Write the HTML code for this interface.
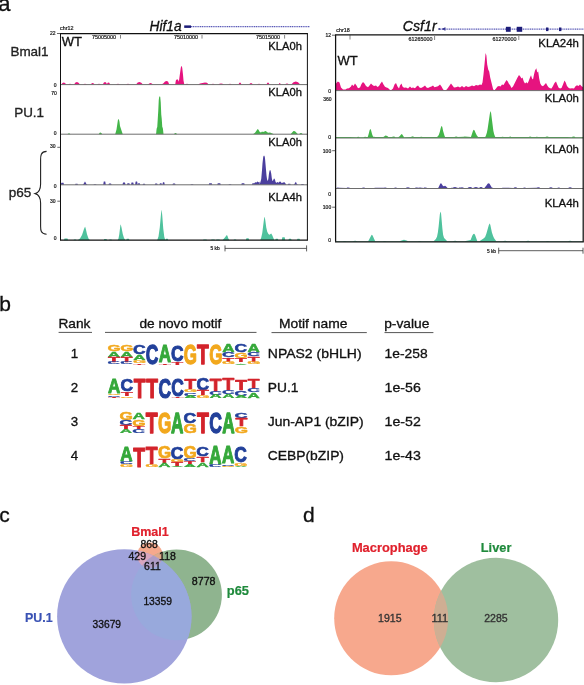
<!DOCTYPE html>
<html lang="en"><head><meta charset="utf-8"><title>Figure</title>
<style>html,body{margin:0;padding:0;background:#fff;}body{width:584px;height:685px;overflow:hidden;}svg{display:block;}</style>
</head><body>
<svg width="584" height="685" viewBox="0 0 584 685" font-family="'Liberation Sans', Arial, Helvetica, sans-serif">
<rect width="584" height="685" fill="#fff"/>
<path d="M60.5,84.60 L60.50,84.60 L61.25,84.60 L62.50,82.91 L63.75,82.42 L65.00,82.93 L66.25,84.53 L68.00,84.60 L69.00,83.96 L70.00,83.80 L71.00,84.00 L72.00,84.60 L74.00,84.60 L75.50,82.52 L77.00,82.00 L78.50,82.65 L80.00,84.60 L83.00,84.60 L84.00,83.96 L85.00,83.80 L86.00,84.00 L87.00,84.60 L90.50,84.60 L90.75,84.54 L91.75,83.30 L92.75,83.02 L93.75,83.46 L94.75,84.60 L97.00,84.60 L98.00,83.96 L99.00,83.80 L100.00,84.00 L101.00,84.60 L102.75,84.60 L103.75,82.80 L104.00,82.47 L105.00,82.00 L106.00,82.59 L106.75,83.80 L107.00,84.01 L107.50,83.04 L107.75,82.77 L108.50,82.40 L109.25,82.86 L109.50,83.13 L110.25,84.51 L110.50,84.60 L116.00,84.60 L117.00,83.96 L118.00,83.80 L119.00,84.00 L120.00,84.60 L126.00,84.60 L127.00,83.96 L128.00,83.80 L129.00,84.00 L130.00,84.60 L136.00,84.60 L137.75,82.52 L139.50,82.00 L141.25,82.65 L143.00,84.60 L148.00,84.60 L149.25,83.50 L150.50,83.12 L151.75,83.44 L153.00,84.51 L153.25,84.60 L161.25,84.60 L161.50,84.53 L163.50,83.20 L165.00,81.60 L166.50,81.00 L168.00,81.40 L169.25,84.60 L175.00,84.60 L175.25,84.27 L175.75,80.93 L176.00,80.37 L177.00,79.20 L178.00,79.87 L178.25,80.15 L178.75,81.65 L179.00,80.40 L180.75,68.06 L181.00,66.88 L181.50,65.80 L182.00,67.09 L182.25,68.03 L183.00,74.77 L183.50,80.60 L184.25,84.35 L184.50,84.60 L185.00,84.60 L186.00,83.96 L187.00,83.80 L188.00,84.00 L189.00,84.60 L198.00,84.60 L200.00,83.40 L205.00,82.40 L207.00,82.80 L208.75,84.55 L211.00,84.60 L212.00,83.88 L213.00,83.70 L214.00,83.92 L215.00,84.60 L218.00,84.60 L219.50,83.80 L221.00,83.60 L222.50,83.85 L224.00,84.60 L228.00,84.60 L229.00,83.96 L230.00,83.80 L231.00,84.00 L232.00,84.60 L238.50,84.60 L239.25,83.00 L240.00,82.60 L240.75,83.10 L241.50,84.60 L249.00,84.60 L250.00,83.40 L251.00,83.10 L252.00,83.47 L253.00,84.60 L257.00,84.60 L258.00,83.88 L259.00,83.70 L260.00,83.92 L261.00,84.60 L266.50,84.60 L267.25,83.00 L268.00,82.60 L268.75,83.10 L269.50,84.60 L278.50,84.60 L278.75,84.30 L279.25,83.37 L279.75,83.12 L280.25,83.38 L280.50,83.66 L281.00,84.60 L285.00,84.60 L286.00,83.80 L287.00,83.60 L288.00,83.85 L289.00,84.60 L291.25,84.60 L293.50,82.25 L295.75,81.61 L298.00,82.33 L300.25,84.55 L307.25,84.60 L307.4,84.60 Z" fill="#e6137f"/>
<path d="M60.5,134.20 L60.50,134.20 L67.50,134.20 L68.25,133.56 L69.00,133.40 L69.75,133.60 L70.50,134.20 L98.50,134.20 L98.75,134.13 L99.50,133.06 L99.75,132.87 L100.50,132.60 L101.25,132.93 L101.50,133.13 L102.25,134.13 L115.00,134.20 L115.25,134.03 L116.50,129.57 L118.00,119.60 L118.50,119.17 L118.75,119.16 L119.25,120.73 L119.50,122.00 L120.00,126.00 L122.50,133.62 L122.75,134.20 L156.00,134.20 L156.25,132.55 L156.50,129.80 L156.75,128.34 L157.25,127.12 L158.25,111.10 L158.75,100.30 L159.00,98.16 L159.25,96.86 L159.50,96.60 L160.00,96.60 L160.25,97.06 L160.75,102.50 L161.25,114.60 L161.75,119.05 L162.25,126.81 L162.75,127.88 L163.00,129.20 L163.50,134.20 L174.00,134.20 L174.75,133.24 L175.50,133.00 L176.25,133.30 L177.00,134.20 L253.00,134.20 L255.00,132.70 L257.50,129.15 L257.75,129.12 L258.50,129.72 L259.50,131.60 L259.75,131.89 L261.00,132.60 L262.00,131.40 L263.00,132.00 L264.50,131.54 L265.25,131.09 L265.50,131.05 L266.75,131.73 L268.00,132.80 L270.00,132.60 L274.00,134.20 L290.50,134.20 L293.50,131.10 L293.75,131.02 L295.00,131.20 L298.00,134.20 L299.00,134.20 L299.25,134.15 L300.00,133.35 L301.00,133.00 L301.75,133.25 L302.75,134.15 L307.25,134.20 L307.4,134.20 Z" fill="#43b549"/>
<path d="M60.5,184.80 L60.50,184.80 L60.75,184.80 L61.25,183.00 L61.50,182.80 L63.50,182.80 L64.00,184.80 L75.00,184.80 L75.50,183.80 L77.50,183.80 L78.00,184.80 L82.25,184.80 L83.00,184.49 L83.25,184.30 L84.00,183.25 L84.75,181.77 L85.00,181.40 L85.50,182.19 L86.25,183.65 L86.75,184.30 L87.50,184.75 L93.50,184.80 L94.00,184.20 L96.00,184.20 L96.50,184.80 L103.00,184.80 L103.25,184.47 L103.75,181.50 L105.25,181.50 L105.75,184.47 L106.00,184.80 L108.25,184.80 L108.50,184.56 L108.75,183.96 L109.00,183.60 L111.00,183.60 L111.25,183.96 L111.50,184.56 L111.75,184.80 L122.50,184.80 L123.00,182.60 L125.00,182.60 L125.50,184.80 L126.75,184.80 L127.00,184.50 L127.25,183.75 L127.50,183.30 L129.25,183.30 L129.50,183.60 L129.75,184.35 L130.00,184.80 L131.00,184.80 L131.50,182.60 L133.25,182.60 L133.75,184.58 L134.00,184.80 L135.00,184.80 L135.25,183.84 L135.50,182.24 L135.75,181.60 L137.00,181.60 L137.25,181.92 L137.50,183.52 L137.75,184.65 L138.25,183.30 L139.75,183.30 L140.25,184.65 L140.50,184.80 L142.50,184.80 L142.75,184.50 L143.00,184.00 L143.25,183.80 L144.75,183.80 L145.00,184.00 L145.25,184.50 L145.50,184.80 L154.50,184.80 L154.75,184.68 L155.25,183.60 L157.00,183.60 L157.25,183.72 L157.75,184.80 L159.25,184.80 L159.50,184.50 L159.75,183.75 L160.00,183.30 L161.50,183.30 L162.00,184.80 L162.25,184.80 L162.50,184.30 L162.75,183.05 L163.00,182.30 L164.25,182.30 L164.75,184.55 L165.00,184.80 L172.25,184.80 L172.50,184.56 L172.75,183.96 L173.00,183.60 L175.00,183.60 L175.25,183.96 L175.50,184.56 L175.75,184.80 L190.50,184.80 L191.00,184.20 L193.00,184.20 L193.50,184.80 L208.50,184.80 L208.75,184.65 L209.25,183.30 L211.75,183.30 L212.25,184.65 L212.50,184.80 L217.00,184.80 L217.25,184.65 L217.75,183.30 L220.25,183.30 L220.75,184.65 L221.00,184.80 L228.50,184.80 L229.00,184.20 L231.00,184.20 L231.50,184.80 L241.00,184.80 L241.25,184.65 L241.75,183.30 L244.25,183.30 L244.75,184.65 L245.00,184.80 L251.75,184.80 L252.75,183.09 L253.00,183.07 L254.00,183.40 L255.25,182.33 L255.50,182.24 L256.25,182.54 L256.50,182.48 L257.25,181.58 L257.50,181.50 L258.25,182.25 L258.50,182.35 L259.50,181.85 L259.75,184.24 L261.00,179.92 L261.25,178.76 L262.00,170.37 L262.50,163.23 L263.25,156.79 L263.50,156.15 L264.00,155.53 L264.25,155.74 L264.75,156.86 L265.00,158.28 L266.50,175.51 L267.00,179.09 L267.25,180.06 L267.75,180.91 L268.00,180.27 L268.25,179.35 L268.50,177.80 L269.00,173.31 L269.50,170.89 L269.75,170.37 L270.50,170.20 L271.25,173.71 L271.75,177.78 L272.00,179.34 L272.50,181.06 L272.75,181.10 L274.00,178.43 L274.25,178.42 L274.75,179.18 L275.00,179.80 L275.50,181.80 L275.75,182.29 L276.50,182.74 L276.75,182.68 L277.50,182.08 L277.75,182.12 L278.50,182.72 L278.75,182.62 L279.50,181.72 L279.75,181.62 L280.75,181.79 L281.75,183.13 L282.00,183.07 L283.00,182.40 L284.25,182.22 L284.50,182.34 L286.25,184.62 L286.50,184.80 L287.50,184.80 L287.75,184.50 L288.00,184.00 L288.25,183.80 L290.25,183.80 L290.75,184.70 L291.00,184.80 L293.25,184.78 L294.00,184.42 L294.75,183.52 L295.50,182.19 L295.75,181.86 L296.00,182.11 L296.75,183.64 L297.25,184.32 L298.00,184.80 L301.00,184.80 L301.50,184.00 L303.50,184.00 L304.00,184.80 L307.25,184.80 L307.4,184.80 Z" fill="#4b3f9e"/>
<path d="M60.5,240.20 L60.50,240.20 L64.00,240.20 L64.50,238.60 L67.50,238.60 L68.00,240.20 L73.50,240.20 L74.00,239.40 L76.00,239.40 L76.50,240.20 L77.75,240.20 L78.00,240.12 L80.00,238.61 L82.00,234.90 L84.00,228.94 L85.00,226.81 L85.25,227.08 L86.00,229.65 L87.00,234.23 L88.50,238.61 L89.75,240.03 L90.00,240.20 L103.75,240.20 L104.25,239.12 L104.50,239.00 L106.50,239.00 L107.00,240.20 L109.00,240.20 L109.50,239.50 L111.50,239.50 L112.00,240.20 L117.50,240.20 L117.75,240.09 L118.50,238.41 L119.25,234.46 L120.25,226.20 L120.50,224.63 L120.75,224.55 L121.50,227.44 L122.75,233.88 L124.00,237.93 L124.25,238.45 L125.50,240.07 L125.75,240.20 L126.00,240.20 L126.25,240.05 L126.75,238.70 L128.75,238.70 L129.00,239.00 L129.25,239.75 L129.50,240.20 L157.00,240.20 L157.25,240.06 L158.50,236.54 L159.75,227.81 L161.00,213.96 L161.50,209.99 L161.75,210.61 L162.25,215.56 L163.25,228.60 L164.25,236.68 L165.25,240.03 L165.50,239.90 L165.75,239.15 L166.00,238.70 L167.50,238.70 L167.75,238.85 L168.25,240.20 L203.00,240.20 L203.50,239.60 L206.50,239.60 L207.00,240.20 L211.00,240.20 L211.50,239.50 L214.50,239.50 L215.00,240.20 L216.00,240.20 L216.50,239.40 L219.50,239.40 L220.00,240.20 L222.50,240.20 L222.75,240.03 L225.50,236.64 L226.25,235.44 L226.50,235.24 L227.25,235.54 L227.50,235.92 L228.25,238.28 L229.25,239.95 L229.50,240.20 L233.50,240.20 L234.00,239.50 L236.00,239.50 L236.50,240.20 L245.75,240.20 L246.00,239.80 L246.25,238.80 L246.50,238.20 L248.50,238.20 L248.75,238.80 L249.00,239.80 L249.25,240.20 L260.25,240.20 L261.25,237.61 L262.25,232.95 L264.00,219.20 L264.50,216.87 L264.75,217.21 L265.25,219.93 L266.25,227.43 L267.25,231.81 L268.25,233.84 L269.25,234.68 L269.50,234.72 L270.50,233.96 L271.25,233.62 L272.25,235.33 L274.25,240.09 L274.50,240.20 L275.25,240.20 L275.75,238.85 L276.00,238.70 L277.75,238.70 L278.25,240.05 L278.50,240.20 L281.75,240.20 L282.25,237.50 L282.50,237.20 L284.50,237.20 L284.75,237.50 L285.25,240.20 L288.25,240.20 L288.50,239.90 L288.75,239.15 L289.00,238.70 L291.00,238.70 L291.25,239.15 L291.50,239.90 L291.75,240.20 L296.75,240.20 L297.00,239.90 L297.25,239.15 L297.50,238.70 L299.50,238.70 L299.75,239.15 L300.00,239.90 L300.25,240.20 L307.25,240.20 L307.4,240.20 Z" fill="#4fc29d"/>
<path d="M335.6,90.60 L336.00,83.60 L337.80,81.60 L339.50,82.60 L341.00,87.60 L343.00,89.40 L345.50,89.60 L347.00,88.60 L349.00,88.20 L351.00,86.60 L352.00,84.60 L353.50,86.10 L355.00,83.40 L356.50,85.60 L358.00,88.20 L360.00,87.60 L361.50,84.10 L363.00,82.00 L364.50,83.60 L366.00,86.10 L368.00,87.20 L369.50,85.60 L371.00,83.40 L372.50,85.10 L374.00,86.00 L376.00,85.40 L377.50,87.00 L379.00,86.10 L380.50,83.60 L382.00,81.60 L383.50,84.60 L385.00,86.80 L386.50,87.60 L388.00,88.00 L389.50,89.40 L391.00,90.20 L393.00,88.60 L394.50,84.60 L396.00,83.00 L397.50,86.60 L399.00,88.60 L400.00,85.60 L401.50,83.60 L402.50,86.60 L404.00,87.80 L406.00,87.40 L408.00,88.40 L410.00,86.40 L411.50,88.10 L413.00,87.60 L415.00,88.20 L416.50,86.60 L418.00,85.40 L419.50,87.60 L421.00,88.00 L423.00,87.00 L425.00,85.40 L426.50,87.40 L428.00,88.00 L430.00,87.00 L431.50,86.40 L433.00,85.40 L434.50,87.20 L438.00,86.20 L440.00,84.40 L441.50,86.60 L443.00,89.20 L444.00,90.30 L446.00,90.30 L447.50,88.60 L451.00,83.40 L452.50,85.60 L454.00,87.60 L456.00,87.20 L458.00,86.40 L460.00,87.60 L462.00,86.10 L464.00,87.40 L466.00,86.00 L468.00,87.00 L470.00,86.60 L472.00,85.40 L474.00,86.20 L476.00,85.00 L478.00,85.60 L480.00,84.60 L481.50,85.00 L482.50,82.60 L483.50,74.60 L485.60,53.10 L486.40,55.60 L487.20,64.60 L488.20,69.60 L489.20,71.60 L490.20,77.60 L493.20,89.40 L494.50,90.20 L496.00,88.60 L497.50,86.60 L499.00,86.00 L500.50,86.40 L502.00,84.60 L503.50,85.00 L505.00,82.60 L506.50,80.00 L507.80,81.60 L509.00,84.00 L510.00,85.00 L511.50,88.00 L513.00,86.60 L517.50,77.60 L519.00,75.10 L520.30,76.60 L521.50,78.60 L522.50,77.60 L523.80,81.60 L525.00,83.60 L526.50,82.20 L527.50,83.60 L528.50,81.60 L530.00,77.60 L531.00,75.20 L532.00,78.60 L533.00,79.60 L534.00,74.60 L535.00,70.60 L536.30,68.20 L537.30,72.60 L538.20,71.60 L539.20,78.60 L540.30,83.60 L541.50,85.60 L543.00,86.20 L546.00,83.00 L547.30,85.60 L548.50,87.20 L550.00,88.20 L551.50,88.60 L553.00,86.00 L554.50,83.00 L556.00,81.40 L557.20,84.60 L558.50,87.60 L560.00,88.60 L561.50,88.00 L563.00,84.60 L564.50,80.60 L565.70,82.60 L567.00,86.00 L568.50,87.80 L570.00,88.60 L572.00,88.20 L574.00,88.40 L575.50,86.20 L577.00,85.20 L578.50,86.00 L580.00,84.60 L581.50,86.20 L583.00,87.00 L583.2,90.60 Z" fill="#e6137f"/>
<path d="M335.6,138.00 L335.60,137.00 L338.60,137.02 L339.35,136.91 L348.85,137.08 L349.60,136.95 L356.60,137.17 L358.10,136.75 L359.35,137.05 L359.60,137.20 L363.60,137.13 L364.10,136.89 L365.10,136.67 L366.35,136.95 L366.60,137.07 L367.60,137.05 L367.85,136.70 L368.85,133.19 L369.60,130.20 L370.10,129.20 L370.60,129.34 L370.85,129.58 L372.10,134.23 L373.10,136.67 L373.35,136.86 L374.10,136.71 L375.10,136.90 L383.35,136.89 L385.60,135.60 L385.85,135.52 L387.60,136.29 L388.35,136.97 L392.10,137.09 L392.35,136.84 L393.60,136.45 L394.85,136.78 L395.35,137.20 L398.35,137.19 L398.60,137.12 L399.60,136.28 L401.10,134.52 L401.85,134.07 L402.10,134.14 L404.10,137.16 L410.85,137.11 L411.35,136.65 L412.35,136.38 L412.60,136.37 L413.60,136.70 L413.85,136.84 L414.10,137.09 L419.85,137.10 L421.35,136.73 L422.60,137.02 L437.10,136.94 L437.35,136.85 L438.60,135.27 L438.85,134.85 L439.85,131.78 L440.60,128.50 L441.35,126.36 L441.60,126.16 L441.85,126.12 L442.35,127.28 L443.10,130.98 L444.60,136.00 L445.10,137.10 L446.60,136.92 L454.60,137.08 L455.10,136.71 L456.10,136.46 L457.35,136.78 L457.60,136.93 L463.60,136.84 L464.60,136.62 L470.85,136.88 L471.10,136.56 L473.10,130.60 L473.60,129.96 L473.85,129.74 L474.60,130.40 L475.60,133.00 L476.85,135.46 L478.10,136.95 L485.10,137.00 L485.35,136.75 L485.85,135.85 L486.85,132.75 L487.60,129.00 L489.85,113.86 L490.35,111.62 L490.60,111.33 L491.10,113.00 L493.35,130.81 L494.10,134.00 L495.10,136.71 L495.35,137.00 L501.35,136.99 L502.60,136.73 L503.85,136.96 L508.85,136.91 L510.35,136.62 L511.35,136.89 L528.60,136.93 L530.10,136.53 L531.60,136.97 L535.60,136.99 L536.85,136.63 L538.10,136.91 L538.35,137.05 L545.60,136.97 L545.85,136.71 L547.10,136.39 L548.35,136.79 L548.60,136.93 L566.35,137.02 L566.85,136.93 L571.85,137.21 L572.10,137.09 L572.35,136.85 L573.60,136.49 L574.85,136.83 L575.35,137.24 L583.10,137.30 L583.2,138.00 Z" fill="#43b549"/>
<path d="M335.6,188.50 L335.60,187.90 L336.35,187.90 L336.85,187.68 L337.85,187.52 L339.10,187.74 L339.35,187.87 L346.60,187.89 L347.10,187.60 L348.35,187.42 L349.60,187.75 L349.85,187.90 L361.85,187.90 L362.35,187.66 L363.60,187.46 L364.85,187.73 L365.10,187.88 L373.85,187.88 L375.35,187.63 L383.60,187.87 L383.85,187.70 L385.10,187.46 L386.35,187.69 L386.85,187.90 L393.85,187.90 L395.35,187.55 L396.60,187.74 L397.10,187.90 L405.85,187.90 L406.60,187.52 L408.10,187.25 L409.60,187.66 L410.10,187.90 L415.10,187.90 L415.60,187.62 L416.85,187.40 L418.35,187.71 L420.10,187.42 L421.60,187.73 L421.85,187.87 L423.60,187.90 L424.10,187.61 L425.35,187.38 L426.60,187.66 L427.10,187.90 L438.10,187.90 L438.60,187.30 L440.35,183.60 L440.60,183.45 L441.10,183.32 L441.35,183.53 L442.85,185.86 L443.10,186.12 L443.85,186.27 L444.10,186.24 L444.85,185.79 L445.10,185.76 L446.10,186.40 L447.35,187.72 L447.60,187.90 L450.35,187.90 L451.85,187.64 L452.85,187.79 L453.60,187.36 L455.10,187.12 L456.60,187.52 L457.10,187.87 L458.60,187.90 L459.10,187.61 L460.35,187.41 L460.85,187.48 L462.10,187.32 L463.60,187.66 L464.10,187.90 L467.60,187.90 L468.60,187.20 L470.10,186.93 L471.35,187.26 L472.35,187.90 L473.85,187.87 L474.60,187.36 L476.10,187.12 L477.60,187.52 L478.10,187.87 L479.10,187.89 L479.85,187.19 L480.85,186.94 L481.10,186.93 L482.10,187.25 L482.85,187.88 L484.35,187.90 L484.60,187.81 L486.60,185.30 L487.60,183.70 L488.60,183.20 L489.60,183.70 L491.60,187.30 L491.85,187.45 L492.60,187.63 L493.10,187.90 L501.35,187.90 L502.85,187.66 L513.60,187.90 L514.10,187.52 L515.35,187.28 L516.60,187.59 L517.10,187.90 L522.85,187.90 L524.35,187.55 L525.60,187.75 L526.10,187.90 L536.60,187.87 L537.10,187.51 L538.35,187.28 L539.60,187.62 L540.10,187.90 L549.10,187.90 L549.60,187.58 L550.85,187.29 L552.10,187.57 L552.60,187.90 L557.10,187.90 L558.60,187.56 L559.85,187.77 L560.10,187.89 L568.35,187.90 L568.85,187.56 L570.10,187.28 L571.35,187.56 L571.85,187.90 L583.10,187.90 L583.2,188.50 Z" fill="#4b3f9e"/>
<path d="M335.6,241.80 L335.60,241.30 L343.10,241.27 L343.60,241.07 L345.10,240.92 L346.60,241.17 L346.85,241.28 L352.85,241.30 L353.60,240.99 L355.10,240.82 L356.60,241.10 L357.10,241.30 L367.85,241.30 L368.10,241.20 L368.60,240.60 L371.35,235.17 L371.85,234.83 L372.35,235.25 L372.60,235.62 L374.85,240.47 L375.35,241.17 L375.60,241.30 L383.10,241.27 L383.60,241.07 L385.10,240.92 L386.60,241.17 L386.85,241.28 L399.35,241.26 L403.85,239.75 L404.10,239.73 L406.60,240.46 L408.10,241.30 L418.10,241.27 L418.60,241.07 L420.10,240.92 L421.60,241.17 L421.85,241.28 L433.60,241.30 L435.85,238.95 L436.85,237.10 L437.10,236.30 L437.85,232.42 L438.60,226.80 L439.85,214.30 L440.35,212.00 L440.60,211.80 L441.10,213.80 L442.35,228.23 L443.10,234.80 L443.85,237.30 L444.10,237.92 L445.35,239.33 L446.35,240.16 L447.10,241.22 L447.35,241.30 L452.85,241.30 L453.60,240.99 L455.10,240.82 L456.60,241.10 L457.10,241.30 L464.60,241.30 L470.60,240.00 L472.35,235.54 L473.35,233.99 L474.10,233.82 L474.35,233.99 L474.85,234.61 L475.10,235.07 L477.35,241.18 L477.60,241.30 L479.35,241.29 L483.85,238.32 L485.10,236.92 L486.35,233.63 L488.85,225.09 L489.10,224.43 L489.60,223.57 L489.85,223.79 L490.35,225.07 L491.85,232.16 L493.10,236.04 L494.10,238.33 L496.10,241.09 L496.35,241.30 L502.85,241.30 L503.60,240.99 L505.10,240.82 L506.60,241.10 L507.10,241.30 L525.85,241.30 L526.60,240.99 L528.10,240.82 L529.60,241.10 L530.10,241.30 L546.10,241.27 L546.60,241.07 L548.10,240.92 L549.60,241.17 L549.85,241.28 L567.85,241.30 L568.60,240.91 L570.10,240.72 L571.60,241.03 L572.10,241.30 L583.10,241.30 L583.2,241.80 Z" fill="#4fc29d"/>
<line x1="60.5" y1="84.6" x2="307.4" y2="84.6" stroke="#6d6d6d" stroke-width="1"/>
<line x1="60.5" y1="134.2" x2="307.4" y2="134.2" stroke="#6d6d6d" stroke-width="1"/>
<line x1="60.5" y1="184.8" x2="307.4" y2="184.8" stroke="#6d6d6d" stroke-width="1"/>
<path d="M60.00,33.5 H307.90 M60.00,240.2 H307.90" fill="none" stroke="#111" stroke-width="1.25"/>
<path d="M60.5,33.5 V240.2 M307.4,33.5 V240.2" fill="none" stroke="#111" stroke-width="1.0"/>
<line x1="335.6" y1="90.6" x2="583.2" y2="90.6" stroke="#6d6d6d" stroke-width="1"/>
<line x1="335.6" y1="138.0" x2="583.2" y2="138.0" stroke="#6d6d6d" stroke-width="1"/>
<line x1="335.6" y1="188.5" x2="583.2" y2="188.5" stroke="#6d6d6d" stroke-width="1"/>
<path d="M334.98,34.9 H583.83 M334.98,241.8 H583.83" fill="none" stroke="#111" stroke-width="1.3"/>
<path d="M335.6,34.9 V241.8 M583.2,34.9 V241.8" fill="none" stroke="#111" stroke-width="1.25"/>
<text x="55.60" y="35.30" font-size="5.0" text-anchor="end" fill="#222" stroke="#222" stroke-width="0.22">22</text>
<line x1="57" y1="33.5" x2="60.5" y2="33.5" stroke="#222" stroke-width="0.7"/>
<text x="56.60" y="86.70" font-size="5.0" text-anchor="end" fill="#222" stroke="#222" stroke-width="0.22">0</text>
<text x="56.80" y="95.10" font-size="5.0" text-anchor="end" fill="#222" stroke="#222" stroke-width="0.22">70</text>
<text x="56.60" y="135.20" font-size="5.0" text-anchor="end" fill="#222" stroke="#222" stroke-width="0.22">0</text>
<text x="55.60" y="148.00" font-size="5.0" text-anchor="end" fill="#222" stroke="#222" stroke-width="0.22">30</text>
<line x1="57.3" y1="147.3" x2="60.5" y2="147.3" stroke="#222" stroke-width="0.7"/>
<text x="56.60" y="188.00" font-size="5.0" text-anchor="end" fill="#222" stroke="#222" stroke-width="0.22">0</text>
<text x="55.60" y="203.00" font-size="5.0" text-anchor="end" fill="#222" stroke="#222" stroke-width="0.22">30</text>
<line x1="57.3" y1="201.2" x2="60.5" y2="201.2" stroke="#222" stroke-width="0.7"/>
<text x="56.60" y="240.00" font-size="5.0" text-anchor="end" fill="#222" stroke="#222" stroke-width="0.22">0</text>
<text x="331.00" y="37.00" font-size="5" text-anchor="end" fill="#222" stroke="#222" stroke-width="0.22">12</text>
<line x1="332" y1="35.2" x2="335.6" y2="35.2" stroke="#222" stroke-width="0.7"/>
<text x="331.00" y="92.60" font-size="5" text-anchor="end" fill="#222" stroke="#222" stroke-width="0.22">0</text>
<text x="331.60" y="100.60" font-size="5" text-anchor="end" fill="#222" stroke="#222" stroke-width="0.22">360</text>
<text x="331.00" y="139.40" font-size="5" text-anchor="end" fill="#222" stroke="#222" stroke-width="0.22">0</text>
<text x="331.20" y="152.50" font-size="5" text-anchor="end" fill="#222" stroke="#222" stroke-width="0.22">100</text>
<line x1="332.2" y1="150.7" x2="335.6" y2="150.7" stroke="#222" stroke-width="0.7"/>
<text x="331.00" y="195.50" font-size="5" text-anchor="end" fill="#222" stroke="#222" stroke-width="0.22">0</text>
<text x="331.20" y="209.00" font-size="5" text-anchor="end" fill="#222" stroke="#222" stroke-width="0.22">100</text>
<line x1="332.2" y1="207.2" x2="335.6" y2="207.2" stroke="#222" stroke-width="0.7"/>
<text x="331.00" y="241.80" font-size="5" text-anchor="end" fill="#222" stroke="#222" stroke-width="0.22">0</text>
<text x="60.00" y="29.60" font-size="5.4" fill="#222" stroke="#222" stroke-width="0.22">chr12</text>
<text x="336.30" y="31.60" font-size="5.4" fill="#222" stroke="#222" stroke-width="0.22">chr18</text>
<text x="115.90" y="39.20" font-size="5.4" text-anchor="end" fill="#222" stroke="#222" stroke-width="0.22">75005000</text>
<line x1="120.5" y1="35" x2="120.5" y2="38.6" stroke="#333" stroke-width="0.6"/>
<text x="198.00" y="39.20" font-size="5.4" text-anchor="end" fill="#222" stroke="#222" stroke-width="0.22">75010000</text>
<line x1="202" y1="35" x2="202" y2="38.6" stroke="#333" stroke-width="0.6"/>
<text x="280.00" y="39.20" font-size="5.4" text-anchor="end" fill="#222" stroke="#222" stroke-width="0.22">75015000</text>
<line x1="284.6" y1="35" x2="284.6" y2="38.6" stroke="#333" stroke-width="0.6"/>
<line x1="350" y1="35" x2="350" y2="39.5" stroke="#333" stroke-width="0.6"/>
<text x="432.60" y="41.20" font-size="5.4" text-anchor="end" fill="#222" stroke="#222" stroke-width="0.22">61265000</text>
<line x1="434.6" y1="36" x2="434.6" y2="40" stroke="#333" stroke-width="0.6"/>
<text x="516.40" y="41.20" font-size="5.4" text-anchor="end" fill="#222" stroke="#222" stroke-width="0.22">61270000</text>
<line x1="518.8" y1="36" x2="518.8" y2="40" stroke="#333" stroke-width="0.6"/>
<text x="149.60" y="31.40" font-size="13.8" font-style="italic" fill="#111" stroke="#111" stroke-width="0.32" textLength="32.00" lengthAdjust="spacingAndGlyphs">Hif1a</text>
<rect x="184.2" y="25.4" width="6.8" height="2.5" fill="#1c1c78"/>
<line x1="191" y1="26.7" x2="310" y2="26.7" stroke="#5c5cb8" stroke-width="1.2" stroke-dasharray="1.2 0.6"/>
<text x="402.80" y="31.40" font-size="14" font-style="italic" fill="#111" stroke="#111" stroke-width="0.32" textLength="33.80" lengthAdjust="spacingAndGlyphs">Csf1r</text>
<path d="M438.4,28.3 h1.6 v1.5 h-1.6 Z M441.6,29 L445.4,27.3 L445.4,30.7 Z" fill="#1c1c78"/>
<line x1="440" y1="29.1" x2="584" y2="29.1" stroke="#5c5cb8" stroke-width="1.2" stroke-dasharray="1.2 0.6"/>
<rect x="505.9" y="26.80" width="4.8" height="5" fill="#1c1c78"/>
<rect x="516.7" y="26.80" width="5.5" height="5" fill="#1c1c78"/>
<rect x="546" y="27.50" width="2.4" height="3.6" fill="#1c1c78"/>
<rect x="559" y="27.50" width="2.4" height="3.6" fill="#1c1c78"/>
<text x="10.40" y="56.00" font-size="13.5" fill="#222" stroke="#222" stroke-width="0.32" textLength="38.20" lengthAdjust="spacingAndGlyphs">Bmal1</text>
<text x="14.20" y="117.30" font-size="13.5" fill="#222" stroke="#222" stroke-width="0.32" textLength="29.80" lengthAdjust="spacingAndGlyphs">PU.1</text>
<text x="8.80" y="197.10" font-size="13.5" fill="#222" stroke="#222" stroke-width="0.32" textLength="22.60" lengthAdjust="spacingAndGlyphs">p65</text>
<path d="M46.6,151.4 C40.5,151.6 40.6,156 40.6,160 L40.6,184 C40.6,189.5 39.5,192.4 35.2,193.6 C39.5,194.8 40.6,197.6 40.6,203 L40.6,226 C40.6,230 40.5,234 46.6,234.2" fill="none" stroke="#222" stroke-width="1.1"/>
<text x="61.80" y="46.30" font-size="13" fill="#111" stroke="#111" stroke-width="0.32">WT</text>
<text x="337.60" y="64.90" font-size="13" fill="#111" stroke="#111" stroke-width="0.32">WT</text>
<text x="301.90" y="49.90" font-size="11.2" text-anchor="end" fill="#111" stroke="#111" stroke-width="0.32">KLA0h</text>
<text x="301.90" y="95.60" font-size="11.2" text-anchor="end" fill="#111" stroke="#111" stroke-width="0.32">KLA0h</text>
<text x="301.90" y="146.40" font-size="11.2" text-anchor="end" fill="#111" stroke="#111" stroke-width="0.32">KLA0h</text>
<text x="301.90" y="200.60" font-size="11.2" text-anchor="end" fill="#111" stroke="#111" stroke-width="0.32">KLA4h</text>
<text x="578.90" y="46.80" font-size="11.4" text-anchor="end" fill="#111" stroke="#111" stroke-width="0.32">KLA24h</text>
<text x="578.90" y="102.40" font-size="11.4" text-anchor="end" fill="#111" stroke="#111" stroke-width="0.32">KLA0h</text>
<text x="578.90" y="152.80" font-size="11.4" text-anchor="end" fill="#111" stroke="#111" stroke-width="0.32">KLA0h</text>
<text x="578.90" y="207.00" font-size="11.4" text-anchor="end" fill="#111" stroke="#111" stroke-width="0.32">KLA4h</text>
<path d="M225,245.4 V251.4 M225,248.4 H306.6 M306.6,245.4 V251.4" stroke="#333" stroke-width="0.8" fill="none"/>
<text x="219.60" y="250.20" font-size="4.8" text-anchor="end" fill="#222" stroke="#222" stroke-width="0.22">5 kb</text>
<path d="M498.7,247.7 V253.7 M498.7,250.7 H583 M583,247.7 V253.7" stroke="#333" stroke-width="0.8" fill="none"/>
<text x="496.00" y="252.50" font-size="4.8" text-anchor="end" fill="#222" stroke="#222" stroke-width="0.22">5 kb</text>
<text x="-1.70" y="10.80" font-size="22" fill="#111" stroke="#111" stroke-width="0.32">a</text>
<text x="-0.80" y="310.60" font-size="21" fill="#111" stroke="#111" stroke-width="0.32">b</text>
<text x="-0.80" y="522.20" font-size="21" fill="#111" stroke="#111" stroke-width="0.32">c</text>
<text x="303.00" y="522.20" font-size="21" fill="#111" stroke="#111" stroke-width="0.32">d</text>
<text x="58.40" y="328.20" font-size="13.3" fill="#111" stroke="#111" stroke-width="0.32" textLength="32.00" lengthAdjust="spacingAndGlyphs">Rank</text>
<line x1="58.6" y1="332.4" x2="92" y2="332.4" stroke="#555" stroke-width="1"/>
<text x="139.40" y="328.20" font-size="13.3" fill="#111" stroke="#111" stroke-width="0.32" textLength="82.00" lengthAdjust="spacingAndGlyphs">de novo motif</text>
<line x1="105" y1="332.4" x2="256.5" y2="332.4" stroke="#555" stroke-width="1"/>
<text x="279.00" y="328.20" font-size="13.3" fill="#111" stroke="#111" stroke-width="0.32" textLength="68.40" lengthAdjust="spacingAndGlyphs">Motif name</text>
<line x1="271.5" y1="332.6" x2="366.8" y2="332.6" stroke="#555" stroke-width="1"/>
<text x="384.20" y="328.20" font-size="13.3" fill="#111" stroke="#111" stroke-width="0.32" textLength="45.20" lengthAdjust="spacingAndGlyphs">p-value</text>
<line x1="384.5" y1="332.6" x2="433.4" y2="332.6" stroke="#555" stroke-width="1"/>
<text x="74.40" y="358.00" font-size="13.3" text-anchor="middle" fill="#111" stroke="#111" stroke-width="0.32">1</text>
<text x="267.80" y="358.00" font-size="13.3" fill="#111" stroke="#111" stroke-width="0.32" textLength="93.80" lengthAdjust="spacingAndGlyphs">NPAS2 (bHLH)</text>
<text x="384.60" y="358.00" font-size="13.3" fill="#111" stroke="#111" stroke-width="0.32" textLength="43.00" lengthAdjust="spacingAndGlyphs">1e-258</text>
<text x="74.40" y="392.30" font-size="13.3" text-anchor="middle" fill="#111" stroke="#111" stroke-width="0.32">2</text>
<text x="267.80" y="392.30" font-size="13.3" fill="#111" stroke="#111" stroke-width="0.32" textLength="30.60" lengthAdjust="spacingAndGlyphs">PU.1</text>
<text x="384.60" y="392.30" font-size="13.3" fill="#111" stroke="#111" stroke-width="0.32" textLength="36.20" lengthAdjust="spacingAndGlyphs">1e-56</text>
<text x="74.40" y="426.30" font-size="13.3" text-anchor="middle" fill="#111" stroke="#111" stroke-width="0.32">3</text>
<text x="267.80" y="426.30" font-size="13.3" fill="#111" stroke="#111" stroke-width="0.32" textLength="95.80" lengthAdjust="spacingAndGlyphs">Jun-AP1 (bZIP)</text>
<text x="384.60" y="426.30" font-size="13.3" fill="#111" stroke="#111" stroke-width="0.32" textLength="36.20" lengthAdjust="spacingAndGlyphs">1e-52</text>
<text x="74.40" y="460.10" font-size="13.3" text-anchor="middle" fill="#111" stroke="#111" stroke-width="0.32">4</text>
<text x="267.80" y="460.10" font-size="13.3" fill="#111" stroke="#111" stroke-width="0.32" textLength="76.20" lengthAdjust="spacingAndGlyphs">CEBP(bZIP)</text>
<text x="384.60" y="460.10" font-size="13.3" fill="#111" stroke="#111" stroke-width="0.32" textLength="36.20" lengthAdjust="spacingAndGlyphs">1e-43</text>
<text transform="translate(107.59,350.84) scale(0.847,0.431)" font-size="20" font-weight="bold" fill="#f2a81d" stroke="#f2a81d" stroke-width="0.9" stroke-linejoin="round">G</text>
<text transform="translate(107.86,356.66) scale(0.852,0.373)" font-size="20" font-weight="bold" fill="#35a83a" stroke="#35a83a" stroke-width="0.9" stroke-linejoin="round">A</text>
<text transform="translate(108.12,361.58) scale(0.962,0.318)" font-size="20" font-weight="bold" fill="#d3232b" stroke="#d3232b" stroke-width="0.9" stroke-linejoin="round">T</text>
<text transform="translate(107.58,364.47) scale(0.873,0.174)" font-size="20" font-weight="bold" fill="#22409a" stroke="#22409a" stroke-width="0.9" stroke-linejoin="round">C</text>
<text transform="translate(120.29,350.84) scale(0.847,0.431)" font-size="20" font-weight="bold" fill="#f2a81d" stroke="#f2a81d" stroke-width="0.9" stroke-linejoin="round">G</text>
<text transform="translate(120.56,356.66) scale(0.852,0.373)" font-size="20" font-weight="bold" fill="#35a83a" stroke="#35a83a" stroke-width="0.9" stroke-linejoin="round">A</text>
<text transform="translate(120.82,361.58) scale(0.962,0.318)" font-size="20" font-weight="bold" fill="#d3232b" stroke="#d3232b" stroke-width="0.9" stroke-linejoin="round">T</text>
<text transform="translate(120.28,364.47) scale(0.873,0.174)" font-size="20" font-weight="bold" fill="#22409a" stroke="#22409a" stroke-width="0.9" stroke-linejoin="round">C</text>
<text transform="translate(132.98,354.18) scale(0.873,0.621)" font-size="20" font-weight="bold" fill="#22409a" stroke="#22409a" stroke-width="0.9" stroke-linejoin="round">C</text>
<text transform="translate(133.26,359.93) scale(0.852,0.359)" font-size="20" font-weight="bold" fill="#35a83a" stroke="#35a83a" stroke-width="0.9" stroke-linejoin="round">A</text>
<text transform="translate(132.99,363.03) scale(0.847,0.187)" font-size="20" font-weight="bold" fill="#f2a81d" stroke="#f2a81d" stroke-width="0.9" stroke-linejoin="round">G</text>
<text transform="translate(133.52,364.54) scale(0.962,0.081)" font-size="20" font-weight="bold" fill="#d3232b" stroke="#d3232b" stroke-width="0.9" stroke-linejoin="round">T</text>
<text transform="translate(145.68,363.66) scale(0.873,1.420)" font-size="20" font-weight="bold" fill="#22409a" stroke="#22409a" stroke-width="0.9" stroke-linejoin="round">C</text>
<text transform="translate(158.66,362.39) scale(0.852,1.236)" font-size="20" font-weight="bold" fill="#35a83a" stroke="#35a83a" stroke-width="0.9" stroke-linejoin="round">A</text>
<text transform="translate(158.92,364.54) scale(0.962,0.095)" font-size="20" font-weight="bold" fill="#d3232b" stroke="#d3232b" stroke-width="0.9" stroke-linejoin="round">T</text>
<text transform="translate(171.08,361.00) scale(0.873,1.122)" font-size="20" font-weight="bold" fill="#22409a" stroke="#22409a" stroke-width="0.9" stroke-linejoin="round">C</text>
<text transform="translate(171.62,364.50) scale(0.962,0.178)" font-size="20" font-weight="bold" fill="#d3232b" stroke="#d3232b" stroke-width="0.9" stroke-linejoin="round">T</text>
<text transform="translate(183.79,363.66) scale(0.847,1.420)" font-size="20" font-weight="bold" fill="#f2a81d" stroke="#f2a81d" stroke-width="0.9" stroke-linejoin="round">G</text>
<text transform="translate(197.02,363.95) scale(0.962,1.403)" font-size="20" font-weight="bold" fill="#d3232b" stroke="#d3232b" stroke-width="0.9" stroke-linejoin="round">T</text>
<text transform="translate(209.19,363.66) scale(0.847,1.420)" font-size="20" font-weight="bold" fill="#f2a81d" stroke="#f2a81d" stroke-width="0.9" stroke-linejoin="round">G</text>
<text transform="translate(222.16,351.50) scale(0.852,0.512)" font-size="20" font-weight="bold" fill="#35a83a" stroke="#35a83a" stroke-width="0.9" stroke-linejoin="round">A</text>
<text transform="translate(221.88,357.40) scale(0.873,0.377)" font-size="20" font-weight="bold" fill="#22409a" stroke="#22409a" stroke-width="0.9" stroke-linejoin="round">C</text>
<text transform="translate(222.42,361.80) scale(0.962,0.276)" font-size="20" font-weight="bold" fill="#d3232b" stroke="#d3232b" stroke-width="0.9" stroke-linejoin="round">T</text>
<text transform="translate(221.89,364.48) scale(0.847,0.160)" font-size="20" font-weight="bold" fill="#f2a81d" stroke="#f2a81d" stroke-width="0.9" stroke-linejoin="round">G</text>
<text transform="translate(234.58,351.81) scale(0.873,0.512)" font-size="20" font-weight="bold" fill="#22409a" stroke="#22409a" stroke-width="0.9" stroke-linejoin="round">C</text>
<text transform="translate(234.59,358.00) scale(0.847,0.390)" font-size="20" font-weight="bold" fill="#f2a81d" stroke="#f2a81d" stroke-width="0.9" stroke-linejoin="round">G</text>
<text transform="translate(235.12,362.42) scale(0.962,0.276)" font-size="20" font-weight="bold" fill="#d3232b" stroke="#d3232b" stroke-width="0.9" stroke-linejoin="round">T</text>
<text transform="translate(234.86,364.52) scale(0.852,0.123)" font-size="20" font-weight="bold" fill="#35a83a" stroke="#35a83a" stroke-width="0.9" stroke-linejoin="round">A</text>
<text transform="translate(247.56,351.50) scale(0.852,0.512)" font-size="20" font-weight="bold" fill="#35a83a" stroke="#35a83a" stroke-width="0.9" stroke-linejoin="round">A</text>
<text transform="translate(247.28,356.03) scale(0.873,0.282)" font-size="20" font-weight="bold" fill="#22409a" stroke="#22409a" stroke-width="0.9" stroke-linejoin="round">C</text>
<text transform="translate(247.82,361.56) scale(0.962,0.359)" font-size="20" font-weight="bold" fill="#d3232b" stroke="#d3232b" stroke-width="0.9" stroke-linejoin="round">T</text>
<text transform="translate(247.29,364.47) scale(0.847,0.174)" font-size="20" font-weight="bold" fill="#f2a81d" stroke="#f2a81d" stroke-width="0.9" stroke-linejoin="round">G</text>
<text transform="translate(108.06,392.76) scale(0.851,0.981)" font-size="20" font-weight="bold" fill="#35a83a" stroke="#35a83a" stroke-width="0.9" stroke-linejoin="round">A</text>
<text transform="translate(107.79,395.16) scale(0.846,0.119)" font-size="20" font-weight="bold" fill="#f2a81d" stroke="#f2a81d" stroke-width="0.9" stroke-linejoin="round">G</text>
<text transform="translate(107.78,396.99) scale(0.872,0.105)" font-size="20" font-weight="bold" fill="#22409a" stroke="#22409a" stroke-width="0.9" stroke-linejoin="round">C</text>
<text transform="translate(108.32,398.44) scale(0.961,0.081)" font-size="20" font-weight="bold" fill="#d3232b" stroke="#d3232b" stroke-width="0.9" stroke-linejoin="round">T</text>
<text transform="translate(120.46,391.45) scale(0.872,0.833)" font-size="20" font-weight="bold" fill="#22409a" stroke="#22409a" stroke-width="0.9" stroke-linejoin="round">C</text>
<text transform="translate(121.00,396.12) scale(0.961,0.274)" font-size="20" font-weight="bold" fill="#d3232b" stroke="#d3232b" stroke-width="0.9" stroke-linejoin="round">T</text>
<text transform="translate(120.47,397.81) scale(0.846,0.092)" font-size="20" font-weight="bold" fill="#f2a81d" stroke="#f2a81d" stroke-width="0.9" stroke-linejoin="round">G</text>
<text transform="translate(120.74,398.47) scale(0.851,0.025)" font-size="20" font-weight="bold" fill="#35a83a" stroke="#35a83a" stroke-width="0.9" stroke-linejoin="round">A</text>
<text transform="translate(133.68,397.86) scale(0.961,1.368)" font-size="20" font-weight="bold" fill="#d3232b" stroke="#d3232b" stroke-width="0.9" stroke-linejoin="round">T</text>
<text transform="translate(146.37,397.86) scale(0.961,1.368)" font-size="20" font-weight="bold" fill="#d3232b" stroke="#d3232b" stroke-width="0.9" stroke-linejoin="round">T</text>
<text transform="translate(158.51,397.60) scale(0.872,1.359)" font-size="20" font-weight="bold" fill="#22409a" stroke="#22409a" stroke-width="0.9" stroke-linejoin="round">C</text>
<text transform="translate(171.19,395.86) scale(0.872,1.224)" font-size="20" font-weight="bold" fill="#22409a" stroke="#22409a" stroke-width="0.9" stroke-linejoin="round">C</text>
<text transform="translate(171.73,398.43) scale(0.961,0.108)" font-size="20" font-weight="bold" fill="#d3232b" stroke="#d3232b" stroke-width="0.9" stroke-linejoin="round">T</text>
<text transform="translate(184.42,388.61) scale(0.961,0.731)" font-size="20" font-weight="bold" fill="#d3232b" stroke="#d3232b" stroke-width="0.9" stroke-linejoin="round">T</text>
<text transform="translate(183.89,392.06) scale(0.846,0.200)" font-size="20" font-weight="bold" fill="#f2a81d" stroke="#f2a81d" stroke-width="0.9" stroke-linejoin="round">G</text>
<text transform="translate(183.88,395.50) scale(0.872,0.213)" font-size="20" font-weight="bold" fill="#22409a" stroke="#22409a" stroke-width="0.9" stroke-linejoin="round">C</text>
<text transform="translate(184.16,398.40) scale(0.851,0.177)" font-size="20" font-weight="bold" fill="#35a83a" stroke="#35a83a" stroke-width="0.9" stroke-linejoin="round">A</text>
<text transform="translate(196.56,389.65) scale(0.872,0.793)" font-size="20" font-weight="bold" fill="#22409a" stroke="#22409a" stroke-width="0.9" stroke-linejoin="round">C</text>
<text transform="translate(197.10,394.89) scale(0.961,0.316)" font-size="20" font-weight="bold" fill="#d3232b" stroke="#d3232b" stroke-width="0.9" stroke-linejoin="round">T</text>
<text transform="translate(196.57,397.76) scale(0.846,0.173)" font-size="20" font-weight="bold" fill="#f2a81d" stroke="#f2a81d" stroke-width="0.9" stroke-linejoin="round">G</text>
<text transform="translate(196.84,398.47) scale(0.851,0.025)" font-size="20" font-weight="bold" fill="#35a83a" stroke="#35a83a" stroke-width="0.9" stroke-linejoin="round">A</text>
<text transform="translate(209.78,390.79) scale(0.961,0.842)" font-size="20" font-weight="bold" fill="#d3232b" stroke="#d3232b" stroke-width="0.9" stroke-linejoin="round">T</text>
<text transform="translate(209.24,394.68) scale(0.872,0.227)" font-size="20" font-weight="bold" fill="#22409a" stroke="#22409a" stroke-width="0.9" stroke-linejoin="round">C</text>
<text transform="translate(209.53,398.38) scale(0.851,0.233)" font-size="20" font-weight="bold" fill="#35a83a" stroke="#35a83a" stroke-width="0.9" stroke-linejoin="round">A</text>
<text transform="translate(222.47,390.41) scale(0.961,0.787)" font-size="20" font-weight="bold" fill="#d3232b" stroke="#d3232b" stroke-width="0.9" stroke-linejoin="round">T</text>
<text transform="translate(221.93,394.27) scale(0.872,0.227)" font-size="20" font-weight="bold" fill="#22409a" stroke="#22409a" stroke-width="0.9" stroke-linejoin="round">C</text>
<text transform="translate(222.21,398.36) scale(0.851,0.261)" font-size="20" font-weight="bold" fill="#35a83a" stroke="#35a83a" stroke-width="0.9" stroke-linejoin="round">A</text>
<text transform="translate(235.15,389.62) scale(0.961,0.745)" font-size="20" font-weight="bold" fill="#d3232b" stroke="#d3232b" stroke-width="0.9" stroke-linejoin="round">T</text>
<text transform="translate(234.61,395.60) scale(0.872,0.375)" font-size="20" font-weight="bold" fill="#22409a" stroke="#22409a" stroke-width="0.9" stroke-linejoin="round">C</text>
<text transform="translate(234.89,398.41) scale(0.851,0.164)" font-size="20" font-weight="bold" fill="#35a83a" stroke="#35a83a" stroke-width="0.9" stroke-linejoin="round">A</text>
<text transform="translate(247.83,388.43) scale(0.961,0.676)" font-size="20" font-weight="bold" fill="#d3232b" stroke="#d3232b" stroke-width="0.9" stroke-linejoin="round">T</text>
<text transform="translate(247.29,392.44) scale(0.872,0.240)" font-size="20" font-weight="bold" fill="#22409a" stroke="#22409a" stroke-width="0.9" stroke-linejoin="round">C</text>
<text transform="translate(247.58,398.31) scale(0.851,0.385)" font-size="20" font-weight="bold" fill="#35a83a" stroke="#35a83a" stroke-width="0.9" stroke-linejoin="round">A</text>
<text transform="translate(119.48,419.64) scale(0.856,0.505)" font-size="20" font-weight="bold" fill="#f2a81d" stroke="#f2a81d" stroke-width="0.9" stroke-linejoin="round">G</text>
<text transform="translate(119.47,424.98) scale(0.882,0.331)" font-size="20" font-weight="bold" fill="#22409a" stroke="#22409a" stroke-width="0.9" stroke-linejoin="round">C</text>
<text transform="translate(120.02,429.43) scale(0.972,0.281)" font-size="20" font-weight="bold" fill="#d3232b" stroke="#d3232b" stroke-width="0.9" stroke-linejoin="round">T</text>
<text transform="translate(119.76,433.37) scale(0.860,0.251)" font-size="20" font-weight="bold" fill="#35a83a" stroke="#35a83a" stroke-width="0.9" stroke-linejoin="round">A</text>
<text transform="translate(132.58,419.10) scale(0.860,0.459)" font-size="20" font-weight="bold" fill="#35a83a" stroke="#35a83a" stroke-width="0.9" stroke-linejoin="round">A</text>
<text transform="translate(132.30,426.41) scale(0.856,0.476)" font-size="20" font-weight="bold" fill="#f2a81d" stroke="#f2a81d" stroke-width="0.9" stroke-linejoin="round">G</text>
<text transform="translate(132.84,429.48) scale(0.972,0.177)" font-size="20" font-weight="bold" fill="#d3232b" stroke="#d3232b" stroke-width="0.9" stroke-linejoin="round">T</text>
<text transform="translate(132.29,433.32) scale(0.882,0.245)" font-size="20" font-weight="bold" fill="#22409a" stroke="#22409a" stroke-width="0.9" stroke-linejoin="round">C</text>
<text transform="translate(145.66,432.83) scale(0.972,1.441)" font-size="20" font-weight="bold" fill="#d3232b" stroke="#d3232b" stroke-width="0.9" stroke-linejoin="round">T</text>
<text transform="translate(157.94,432.56) scale(0.856,1.432)" font-size="20" font-weight="bold" fill="#f2a81d" stroke="#f2a81d" stroke-width="0.9" stroke-linejoin="round">G</text>
<text transform="translate(171.04,432.83) scale(0.860,1.441)" font-size="20" font-weight="bold" fill="#35a83a" stroke="#35a83a" stroke-width="0.9" stroke-linejoin="round">A</text>
<text transform="translate(183.57,422.56) scale(0.882,0.708)" font-size="20" font-weight="bold" fill="#22409a" stroke="#22409a" stroke-width="0.9" stroke-linejoin="round">C</text>
<text transform="translate(183.58,433.04) scale(0.856,0.679)" font-size="20" font-weight="bold" fill="#f2a81d" stroke="#f2a81d" stroke-width="0.9" stroke-linejoin="round">G</text>
<text transform="translate(196.94,432.83) scale(0.972,1.441)" font-size="20" font-weight="bold" fill="#d3232b" stroke="#d3232b" stroke-width="0.9" stroke-linejoin="round">T</text>
<text transform="translate(209.21,432.56) scale(0.882,1.432)" font-size="20" font-weight="bold" fill="#22409a" stroke="#22409a" stroke-width="0.9" stroke-linejoin="round">C</text>
<text transform="translate(222.32,432.83) scale(0.860,1.441)" font-size="20" font-weight="bold" fill="#35a83a" stroke="#35a83a" stroke-width="0.9" stroke-linejoin="round">A</text>
<text transform="translate(234.85,418.19) scale(0.882,0.389)" font-size="20" font-weight="bold" fill="#22409a" stroke="#22409a" stroke-width="0.9" stroke-linejoin="round">C</text>
<text transform="translate(235.40,426.05) scale(0.972,0.519)" font-size="20" font-weight="bold" fill="#d3232b" stroke="#d3232b" stroke-width="0.9" stroke-linejoin="round">T</text>
<text transform="translate(234.86,433.18) scale(0.856,0.462)" font-size="20" font-weight="bold" fill="#f2a81d" stroke="#f2a81d" stroke-width="0.9" stroke-linejoin="round">G</text>
<text transform="translate(120.16,460.83) scale(0.853,0.995)" font-size="20" font-weight="bold" fill="#35a83a" stroke="#35a83a" stroke-width="0.9" stroke-linejoin="round">A</text>
<text transform="translate(119.88,464.42) scale(0.874,0.201)" font-size="20" font-weight="bold" fill="#22409a" stroke="#22409a" stroke-width="0.9" stroke-linejoin="round">C</text>
<text transform="translate(119.89,467.27) scale(0.849,0.172)" font-size="20" font-weight="bold" fill="#f2a81d" stroke="#f2a81d" stroke-width="0.9" stroke-linejoin="round">G</text>
<text transform="translate(133.14,466.76) scale(0.964,1.381)" font-size="20" font-weight="bold" fill="#d3232b" stroke="#d3232b" stroke-width="0.9" stroke-linejoin="round">T</text>
<text transform="translate(145.86,463.58) scale(0.964,1.173)" font-size="20" font-weight="bold" fill="#d3232b" stroke="#d3232b" stroke-width="0.9" stroke-linejoin="round">T</text>
<text transform="translate(145.33,467.25) scale(0.849,0.201)" font-size="20" font-weight="bold" fill="#f2a81d" stroke="#f2a81d" stroke-width="0.9" stroke-linejoin="round">G</text>
<text transform="translate(158.05,458.15) scale(0.849,0.795)" font-size="20" font-weight="bold" fill="#f2a81d" stroke="#f2a81d" stroke-width="0.9" stroke-linejoin="round">G</text>
<text transform="translate(158.58,462.89) scale(0.964,0.281)" font-size="20" font-weight="bold" fill="#d3232b" stroke="#d3232b" stroke-width="0.9" stroke-linejoin="round">T</text>
<text transform="translate(158.32,467.25) scale(0.853,0.281)" font-size="20" font-weight="bold" fill="#35a83a" stroke="#35a83a" stroke-width="0.9" stroke-linejoin="round">A</text>
<text transform="translate(170.76,458.58) scale(0.874,0.795)" font-size="20" font-weight="bold" fill="#22409a" stroke="#22409a" stroke-width="0.9" stroke-linejoin="round">C</text>
<text transform="translate(170.77,461.61) scale(0.849,0.158)" font-size="20" font-weight="bold" fill="#f2a81d" stroke="#f2a81d" stroke-width="0.9" stroke-linejoin="round">G</text>
<text transform="translate(171.30,465.95) scale(0.964,0.281)" font-size="20" font-weight="bold" fill="#d3232b" stroke="#d3232b" stroke-width="0.9" stroke-linejoin="round">T</text>
<text transform="translate(171.04,467.35) scale(0.853,0.073)" font-size="20" font-weight="bold" fill="#35a83a" stroke="#35a83a" stroke-width="0.9" stroke-linejoin="round">A</text>
<text transform="translate(183.49,458.15) scale(0.849,0.795)" font-size="20" font-weight="bold" fill="#f2a81d" stroke="#f2a81d" stroke-width="0.9" stroke-linejoin="round">G</text>
<text transform="translate(183.48,460.76) scale(0.874,0.129)" font-size="20" font-weight="bold" fill="#22409a" stroke="#22409a" stroke-width="0.9" stroke-linejoin="round">C</text>
<text transform="translate(184.02,464.02) scale(0.964,0.207)" font-size="20" font-weight="bold" fill="#d3232b" stroke="#d3232b" stroke-width="0.9" stroke-linejoin="round">T</text>
<text transform="translate(183.76,467.29) scale(0.853,0.207)" font-size="20" font-weight="bold" fill="#35a83a" stroke="#35a83a" stroke-width="0.9" stroke-linejoin="round">A</text>
<text transform="translate(196.20,456.06) scale(0.874,0.650)" font-size="20" font-weight="bold" fill="#22409a" stroke="#22409a" stroke-width="0.9" stroke-linejoin="round">C</text>
<text transform="translate(196.74,462.40) scale(0.964,0.400)" font-size="20" font-weight="bold" fill="#d3232b" stroke="#d3232b" stroke-width="0.9" stroke-linejoin="round">T</text>
<text transform="translate(196.48,467.24) scale(0.853,0.311)" font-size="20" font-weight="bold" fill="#35a83a" stroke="#35a83a" stroke-width="0.9" stroke-linejoin="round">A</text>
<text transform="translate(209.20,464.20) scale(0.853,1.248)" font-size="20" font-weight="bold" fill="#35a83a" stroke="#35a83a" stroke-width="0.9" stroke-linejoin="round">A</text>
<text transform="translate(208.92,467.28) scale(0.874,0.158)" font-size="20" font-weight="bold" fill="#22409a" stroke="#22409a" stroke-width="0.9" stroke-linejoin="round">C</text>
<text transform="translate(221.92,463.35) scale(0.853,1.203)" font-size="20" font-weight="bold" fill="#35a83a" stroke="#35a83a" stroke-width="0.9" stroke-linejoin="round">A</text>
<text transform="translate(221.64,465.57) scale(0.874,0.100)" font-size="20" font-weight="bold" fill="#22409a" stroke="#22409a" stroke-width="0.9" stroke-linejoin="round">C</text>
<text transform="translate(221.65,467.32) scale(0.849,0.100)" font-size="20" font-weight="bold" fill="#f2a81d" stroke="#f2a81d" stroke-width="0.9" stroke-linejoin="round">G</text>
<text transform="translate(234.36,462.10) scale(0.874,1.084)" font-size="20" font-weight="bold" fill="#22409a" stroke="#22409a" stroke-width="0.9" stroke-linejoin="round">C</text>
<text transform="translate(234.37,466.15) scale(0.849,0.216)" font-size="20" font-weight="bold" fill="#f2a81d" stroke="#f2a81d" stroke-width="0.9" stroke-linejoin="round">G</text>
<text transform="translate(234.64,467.35) scale(0.853,0.058)" font-size="20" font-weight="bold" fill="#35a83a" stroke="#35a83a" stroke-width="0.9" stroke-linejoin="round">A</text>
<defs>
<clipPath id="cpPU"><circle cx="124.3" cy="616.4" r="67.2"/></clipPath>
<clipPath id="cpP65"><circle cx="176.5" cy="594.8" r="45.4"/></clipPath>
<clipPath id="cpBM"><circle cx="149.9" cy="555.2" r="12.8"/></clipPath>
</defs>
<circle cx="149.9" cy="555.2" r="12.8" fill="#f5a98d"/>
<circle cx="176.5" cy="594.8" r="45.4" fill="#8fb48f"/>
<g clip-path="url(#cpBM)">
<circle cx="176.5" cy="594.8" r="45.4" fill="#dfa98a"/>
</g>
<circle cx="124.3" cy="616.4" r="67.2" fill="#a0a3dc"/>
<g clip-path="url(#cpPU)">
<circle cx="176.5" cy="594.8" r="45.4" fill="#98a9dc"/>
<g clip-path="url(#cpBM)">
<circle cx="124.3" cy="616.4" r="67.2" fill="#d9a6bf"/>
<circle cx="176.5" cy="594.8" r="45.4" fill="#ae9cc6"/>
</g>
</g>
<text x="131.20" y="535.50" font-size="12.6" font-weight="bold" fill="#e0202c" stroke="#e0202c" stroke-width="0.2" textLength="37.60" lengthAdjust="spacingAndGlyphs">Bmal1</text>
<text x="25.00" y="621.50" font-size="13" font-weight="bold" fill="#3a52b4" stroke="#3a52b4" stroke-width="0.2" textLength="27.60" lengthAdjust="spacingAndGlyphs">PU.1</text>
<text x="226.80" y="595.00" font-size="13" font-weight="bold" fill="#1f8a3c" stroke="#1f8a3c" stroke-width="0.2" textLength="22.20" lengthAdjust="spacingAndGlyphs">p65</text>
<text x="140.50" y="547.50" font-size="10.5" fill="#111" stroke="#111" stroke-width="0.32" textLength="17.40" lengthAdjust="spacingAndGlyphs">868</text>
<text x="128.50" y="559.80" font-size="10.5" fill="#111" stroke="#111" stroke-width="0.32" textLength="17.50" lengthAdjust="spacingAndGlyphs">429</text>
<text x="159.10" y="559.80" font-size="10.5" fill="#111" stroke="#111" stroke-width="0.32" textLength="16.80" lengthAdjust="spacingAndGlyphs">118</text>
<text x="144.10" y="569.60" font-size="10.5" fill="#111" stroke="#111" stroke-width="0.32" textLength="16.60" lengthAdjust="spacingAndGlyphs">611</text>
<text x="191.80" y="584.70" font-size="10.5" fill="#111" stroke="#111" stroke-width="0.32" textLength="23.70" lengthAdjust="spacingAndGlyphs">8778</text>
<text x="143.40" y="604.70" font-size="10.5" fill="#111" stroke="#111" stroke-width="0.32" textLength="28.60" lengthAdjust="spacingAndGlyphs">13359</text>
<text x="92.60" y="628.30" font-size="10.5" fill="#111" stroke="#111" stroke-width="0.32" textLength="28.40" lengthAdjust="spacingAndGlyphs">33679</text>
<defs><clipPath id="cpM"><circle cx="391.2" cy="618.3" r="57"/></clipPath></defs>
<circle cx="391.2" cy="618.3" r="57" fill="#f7a88d"/>
<circle cx="496" cy="620" r="62.2" fill="#9fbf9f"/>
<circle cx="496" cy="620" r="62.2" fill="#cfae93" clip-path="url(#cpM)"/>
<text x="351.90" y="551.80" font-size="13" font-weight="bold" fill="#e0202c" stroke="#e0202c" stroke-width="0.2" textLength="75.80" lengthAdjust="spacingAndGlyphs">Macrophage</text>
<text x="480.80" y="551.80" font-size="13" font-weight="bold" fill="#1f8a3c" stroke="#1f8a3c" stroke-width="0.2" textLength="30.60" lengthAdjust="spacingAndGlyphs">Liver</text>
<text x="378.10" y="621.90" font-size="10.5" fill="#333" stroke="#333" stroke-width="0.32" textLength="23.50" lengthAdjust="spacingAndGlyphs">1915</text>
<text x="431.50" y="621.90" font-size="10.5" fill="#333" stroke="#333" stroke-width="0.32" textLength="16.70" lengthAdjust="spacingAndGlyphs">111</text>
<text x="484.20" y="621.90" font-size="10.5" fill="#333" stroke="#333" stroke-width="0.32" textLength="23.40" lengthAdjust="spacingAndGlyphs">2285</text>
</svg>
</body></html>
